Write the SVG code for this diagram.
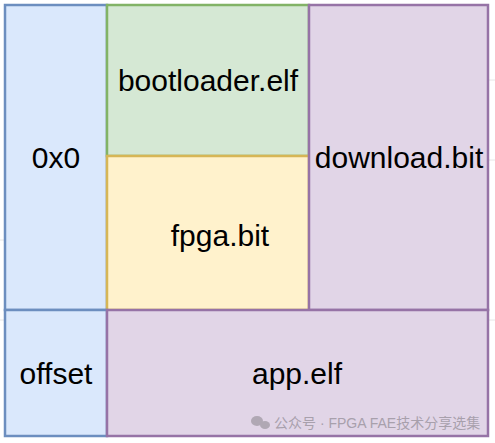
<svg xmlns="http://www.w3.org/2000/svg" width="495" height="443" viewBox="0 0 495 443">
<style>
.t{font-family:"Liberation Sans",Arial,sans-serif;font-size:30px;fill:#000;text-anchor:middle;dominant-baseline:central}
.b{fill:#dae8fc;stroke:#6c8ebf;stroke-width:2.5}
.g{fill:#d5e8d4;stroke:#82b366;stroke-width:2.5}
.y{fill:#fff2cc;stroke:#d6b656;stroke-width:2.5}
.p{fill:#e1d5e7;stroke:#9673a6;stroke-width:2.5}
.grid{stroke:#e6e6e6;stroke-width:1}
.wm{font-family:"Liberation Sans","Noto Sans CJK SC",sans-serif;font-size:14px;fill:#a8a0ac}
</style>
<rect width="495" height="443" fill="#fff"/>
<g id="grid">
<line class="grid" x1="0" y1="240" x2="5" y2="240"/>
<line class="grid" x1="0" y1="320" x2="5" y2="320"/>
<line class="grid" x1="488" y1="80" x2="495" y2="80"/>
<line class="grid" x1="488" y1="160" x2="495" y2="160"/>
<line class="grid" x1="488" y1="320" x2="495" y2="320"/>
</g>
<g id="n-0x0"><rect class="b" x="5" y="5" width="102" height="305"/><text class="t" x="56" y="157">0x0</text></g>
<g id="n-bootloader"><rect class="g" x="107" y="5" width="202" height="151"/><text class="t" x="208" y="80">bootloader.elf</text></g>
<g id="n-fpga"><rect class="y" x="107" y="156" width="202" height="154"/><text class="t" x="220" y="235">fpga.bit</text></g>
<g id="n-download"><rect class="p" x="309" y="5" width="179" height="305"/><text class="t" x="399" y="157">download.bit</text></g>
<g id="n-offset"><rect class="b" x="5" y="310" width="102" height="126"/><text class="t" x="56" y="373">offset</text></g>
<g id="n-app"><rect class="p" x="107" y="310" width="381" height="126"/><text class="t" x="297" y="373">app.elf</text></g>
<g id="connectors"/>
<g id="watermark">
<ellipse cx="257" cy="421" rx="6" ry="5" fill="#b0a8b4"/>
<ellipse cx="265" cy="425" rx="5" ry="4" fill="#b0a8b4"/>
<text class="wm" x="274" y="428">公众号 · FPGA FAE技术分享选集</text>
</g>
</svg>
